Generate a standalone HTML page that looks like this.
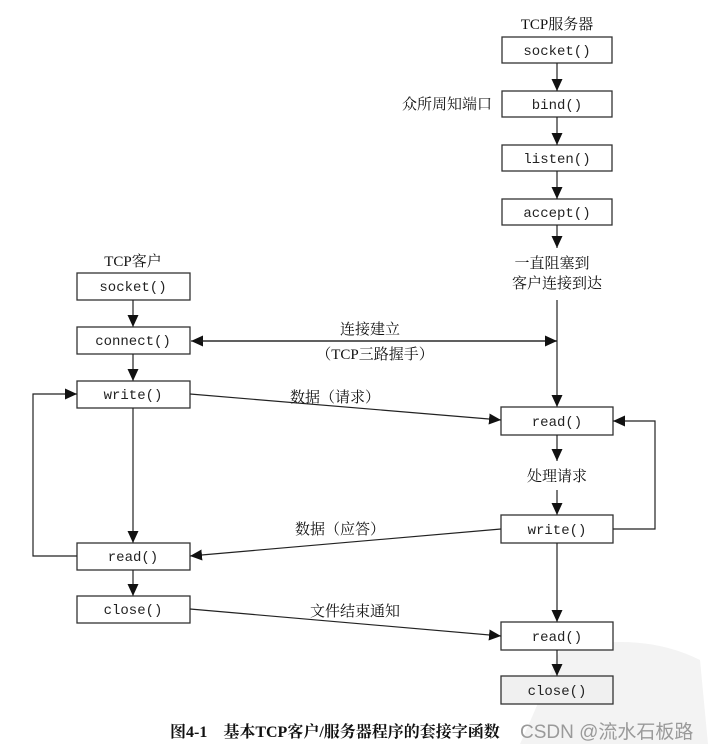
<!DOCTYPE html>
<html><head><meta charset="utf-8"><style>
html,body{margin:0;padding:0;background:#fff;}
svg{display:block;}
.b{fill:#fff;stroke:#333;stroke-width:1.3;}
.m{font-family:"Liberation Mono",monospace;font-size:14px;fill:#222;}
.c{font-family:"Liberation Serif","Noto Serif CJK SC",serif;font-size:15px;fill:#111;}
.l{stroke:#222;stroke-width:1.2;fill:none;}
</style></head><body>
<svg width="708" height="744" viewBox="0 0 708 744" xmlns="http://www.w3.org/2000/svg">
<defs>
<marker id="a" markerWidth="13" markerHeight="12" refX="12" refY="5.5" orient="auto" markerUnits="userSpaceOnUse">
<path d="M0,0 L12,5.5 L0,11 z" fill="#111"/></marker>
</defs>
<path d="M560,650 Q640,630 700,660 L708,744 L520,744 Q540,700 560,650z" fill="#f3f3f3"/>
<text x="557" y="29" class="c" text-anchor="middle">TCP服务器</text>
<rect class="b" x="502" y="37" width="110" height="26"/><text x="557" y="55" class="m" text-anchor="middle">socket()</text>
<rect class="b" x="502" y="91" width="110" height="26"/><text x="557" y="109" class="m" text-anchor="middle">bind()</text>
<text x="492" y="109" class="c" text-anchor="end">众所周知端口</text>
<rect class="b" x="502" y="145" width="110" height="26"/><text x="557" y="163" class="m" text-anchor="middle">listen()</text>
<rect class="b" x="502" y="199" width="110" height="26"/><text x="557" y="217" class="m" text-anchor="middle">accept()</text>
<line class="l" x1="557" y1="63" x2="557" y2="91" marker-end="url(#a)"/>
<line class="l" x1="557" y1="117" x2="557" y2="145" marker-end="url(#a)"/>
<line class="l" x1="557" y1="171" x2="557" y2="199" marker-end="url(#a)"/>
<line class="l" x1="557" y1="225" x2="557" y2="248" marker-end="url(#a)"/>
<text x="552" y="268" class="c" text-anchor="middle">一直阻塞到</text>
<text x="557" y="288" class="c" text-anchor="middle">客户连接到达</text>
<line class="l" x1="557" y1="300" x2="557" y2="407" marker-end="url(#a)"/>
<rect class="b" x="501" y="407" width="112" height="28"/><text x="557" y="426" class="m" text-anchor="middle">read()</text>
<line class="l" x1="557" y1="435" x2="557" y2="461" marker-end="url(#a)"/>
<text x="557" y="481" class="c" text-anchor="middle">处理请求</text>
<line class="l" x1="557" y1="490" x2="557" y2="515" marker-end="url(#a)"/>
<rect class="b" x="501" y="515" width="112" height="28"/><text x="557" y="534" class="m" text-anchor="middle">write()</text>
<polyline class="l" points="613,529 655,529 655,421 613,421" marker-end="url(#a)"/>
<line class="l" x1="557" y1="543" x2="557" y2="622" marker-end="url(#a)"/>
<rect class="b" x="501" y="622" width="112" height="28"/><text x="557" y="641" class="m" text-anchor="middle">read()</text>
<line class="l" x1="557" y1="650" x2="557" y2="676" marker-end="url(#a)"/>
<rect class="b" x="501" y="676" width="112" height="28" style="fill:#f0f0f0"/><text x="557" y="695" class="m" text-anchor="middle">close()</text>
<text x="133" y="266" class="c" text-anchor="middle">TCP客户</text>
<rect class="b" x="77" y="273" width="113" height="27"/><text x="133" y="291" class="m" text-anchor="middle">socket()</text>
<line class="l" x1="133" y1="300" x2="133" y2="327" marker-end="url(#a)"/>
<rect class="b" x="77" y="327" width="113" height="27"/><text x="133" y="345" class="m" text-anchor="middle">connect()</text>
<line class="l" x1="133" y1="354" x2="133" y2="381" marker-end="url(#a)"/>
<rect class="b" x="77" y="381" width="113" height="27"/><text x="133" y="399" class="m" text-anchor="middle">write()</text>
<line class="l" x1="133" y1="408" x2="133" y2="543" marker-end="url(#a)"/>
<rect class="b" x="77" y="543" width="113" height="27"/><text x="133" y="561" class="m" text-anchor="middle">read()</text>
<polyline class="l" points="77,556 33,556 33,394 77,394" marker-end="url(#a)"/>
<line class="l" x1="133" y1="570" x2="133" y2="596" marker-end="url(#a)"/>
<rect class="b" x="77" y="596" width="113" height="27"/><text x="133" y="614" class="m" text-anchor="middle">close()</text>
<line class="l" x1="557" y1="341" x2="191" y2="341" marker-end="url(#a)"/>
<line class="l" x1="200" y1="341" x2="557" y2="341" marker-end="url(#a)"/>
<text x="370" y="334" class="c" text-anchor="middle">连接建立</text>
<text x="375" y="359" class="c" text-anchor="middle">（TCP三路握手）</text>
<line class="l" x1="190" y1="394" x2="501" y2="420" marker-end="url(#a)"/>
<text x="335" y="402" class="c" text-anchor="middle">数据（请求）</text>
<line class="l" x1="501" y1="529" x2="190" y2="556" marker-end="url(#a)"/>
<text x="340" y="534" class="c" text-anchor="middle">数据（应答）</text>
<line class="l" x1="190" y1="609" x2="501" y2="636" marker-end="url(#a)"/>
<text x="355" y="616" class="c" text-anchor="middle">文件结束通知</text>
<text x="170" y="737" style="font-family:'Liberation Serif','Noto Serif CJK SC',serif;font-size:16px;font-weight:bold;fill:#111">图4-1　基本TCP客户/服务器程序的套接字函数</text>
<text x="520" y="738" style="font-family:'Liberation Sans','Noto Sans CJK SC',sans-serif;font-size:19px;fill:#9a9a9a">CSDN @流水石板路</text>
</svg>
</body></html>
